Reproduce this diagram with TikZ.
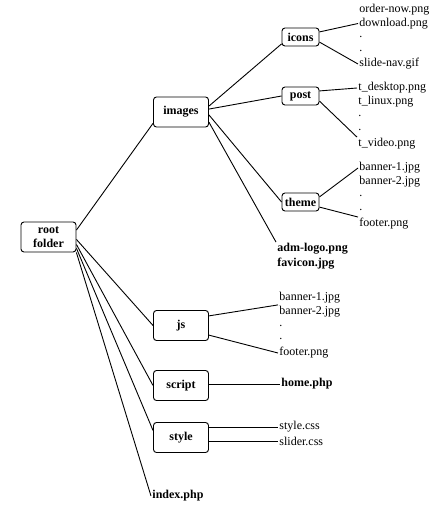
\documentclass[tikz,border=0pt]{standalone}
\usepackage{fontspec}
\setmainfont{Liberation Serif}
\usepackage{tikz}

\begin{document}
\begin{tikzpicture}[x=1pt,y=-1pt,line width=0.9pt,
	bigdir/.style={shape=rectangle,draw=black,rounded corners=3pt,minimum width=55pt,minimum height=30pt,inner sep=1pt,font=\fontsize{12}{14}\selectfont\bfseries,align=center},
	smalldir/.style={shape=rectangle,draw=black,rounded corners=3pt,minimum width=37pt,minimum height=18pt,inner sep=1pt,font=\fontsize{12}{14}\selectfont\bfseries},
	file/.style={anchor=west,inner sep=1pt,font=\fontsize{12}{14}\selectfont},
	bfile/.style={anchor=west,inner sep=1pt,font=\fontsize{12}{14}\selectfont\bfseries}]
	\useasboundingbox (0,0) rectangle (444,509);

	\node[bigdir] (root) at (48.5, 237)   {root\\folder};
	\node[bigdir] (images) at (181, 112)  {images};
	\node[bigdir] (js) at (181, 325.5)    {js};
	\node[bigdir] (script) at (181, 385.5){script};
	\node[bigdir] (style) at (181, 437.5) {style};
	\node[smalldir] (icons) at (300.5, 37) {icons};
	\node[smalldir] (post) at (300.5, 96)  {post};
	\node[smalldir] (theme) at (300.5, 202){theme};

	\node[file] (ic1) at (358, 10)   {order-now.png};
	\node[file] (ic2) at (358, 23.5) {download.png};
	\node[file] (ic3) at (358, 37)   {.};
	\node[file] (ic4) at (358, 50.5) {.};
	\node[file] (ic5) at (358, 64)   {slide-nav.gif};

	\node[file] (po1) at (357, 88)   {t\_desktop.png};
	\node[file] (po2) at (357, 102)  {t\_linux.png};
	\node[file] (po3) at (357, 116)  {.};
	\node[file] (po4) at (357, 130)  {.};
	\node[file] (po5) at (357, 144)  {t\_video.png};

	\node[file] (th1) at (358, 168)  {banner-1.jpg};
	\node[file] (th2) at (358, 182)  {banner-2.jpg};
	\node[file] (th3) at (358, 196)  {.};
	\node[file] (th4) at (358, 210)  {.};
	\node[file] (th5) at (358, 224)  {footer.png};

	\node[bfile] (adm) at (276, 249) {adm-logo.png};
	\node[bfile] (fav) at (276, 263.5) {favicon.jpg};

	\node[file] (js1) at (278, 298)  {banner-1.jpg};
	\node[file] (js2) at (278, 312)  {banner-2.jpg};
	\node[file] (js3) at (278, 325.5){.};
	\node[file] (js4) at (278, 339)  {.};
	\node[file] (js5) at (278, 353)  {footer.png};

	\node[bfile] (home) at (280, 384) {home.php};
	\node[file] (css1) at (278, 427)  {style.css};
	\node[file] (css2) at (278, 441)  {slider.css};
	\node[bfile] (index) at (151, 496) {index.php};

	\path[-] (root.14) edge (images.-158);
	\path[-] (root.-5) edge (js.west);
	\path[-] (root.-15) edge (script.west);
	\path[-] (root.-22) edge (style.166);
	\path[-] (root.-29) edge (index.west);

	\path[-] (images.12) edge (icons.-160);
	\path[-] (images.6) edge (post.west);
	\path[-] (images.-6) edge (theme.west);
	\path[-] (images.-20) edge (adm.north west);

	\path[-] (icons.15) edge (ic2.west);
	\path[-] (icons.-15) edge (ic5.west);
	\path[-] (post.15) edge (po1.west);
	\path[-] (post.-15) edge (po5.north west);
	\path[-] (theme.15) edge (th1.west);
	\path[-] (theme.-15) edge (th5.north west);

	\path[-] (js.19) edge (js1.south west);
	\path[-] (js.-19) edge (js5.west);
	\path[-] (script.east |- home.west) edge (home.west);
	\path[-] (style.east |- css1.west) edge (css1.west);
	\path[-] (style.east |- css2.west) edge (css2.west);

\end{tikzpicture}
\end{document}
